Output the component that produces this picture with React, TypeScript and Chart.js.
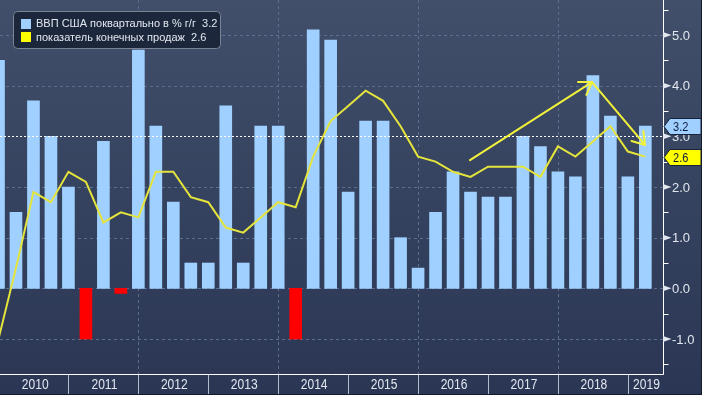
import React, { useEffect, useRef } from "react";
import { Chart, registerables } from "chart.js";

Chart.register(...registerables);

// ---------- DATA ----------
const quarters = [
  "4Q09",
  "1Q10", "2Q10", "3Q10", "4Q10",
  "1Q11", "2Q11", "3Q11", "4Q11",
  "1Q12", "2Q12", "3Q12", "4Q12",
  "1Q13", "2Q13", "3Q13", "4Q13",
  "1Q14", "2Q14", "3Q14", "4Q14",
  "1Q15", "2Q15", "3Q15", "4Q15",
  "1Q16", "2Q16", "3Q16", "4Q16",
  "1Q17", "2Q17", "3Q17", "4Q17",
  "1Q18", "2Q18", "3Q18", "4Q18",
  "1Q19",
];

const gdpValues = [
  4.5,
  1.5, 3.7, 3.0, 2.0,
  -1.0, 2.9, -0.1, 4.7,
  3.2, 1.7, 0.5, 0.5,
  3.6, 0.5, 3.2, 3.2,
  -1.0, 5.1, 4.9, 1.9,
  3.3, 3.3, 1.0, 0.4,
  1.5, 2.3, 1.9, 1.8,
  1.8, 3.0, 2.8, 2.3,
  2.2, 4.2, 3.4, 2.2,
  3.2,
];

const finalSalesValues = [
  -1.0,
  0.4, 1.9, 1.7, 2.3,
  2.1, 1.3, 1.5, 1.4,
  2.3, 2.3, 1.8, 1.7,
  1.2, 1.1, 1.4, 1.7,
  1.6, 2.6, 3.3, 3.6,
  3.9, 3.7, 3.2, 2.6,
  2.5, 2.3, 2.2, 2.4,
  2.4, 2.4, 2.2, 2.8,
  2.6, 2.9, 3.2, 2.7,
  2.6,
];

const yearLabels = ["2010", "2011", "2012", "2013", "2014", "2015", "2016", "2017", "2018", "2019"];
const yTickValues = [-1, 0, 1, 2, 3, 4, 5];
const yMinorTickValues = [-1.5, -0.5, 0.5, 1.5, 2.5, 3.5, 4.5, 5.5];
const yTickLabels = ["-1.0", "0.0", "1.0", "2.0", "3.0", "4.0", "5.0"];
const referenceLevel = 3.0;

const seriesNames = ["ВВП США поквартально в % г/г", "показатель конечных продаж"];
const lastValueLabels = ["3.2", "2.6"];
const lastValues = [3.2, 2.6];

// hand-drawn arrows, in (quarter index, value) coordinates
const arrowStarts = [[26.97, 2.53], [33.95, 4.07]];
const arrowEnds = [[33.95, 4.07], [36.98, 2.83]];

// ---------- STYLE ----------
const BAR_BLUE = "#9fd0ff";
const BAR_RED = "#ff0000";
const LINE_YELLOW = "#e4e43c";
const TAG_YELLOW = "#ffff00";
const ARROW_YELLOW = "#f2f23a";
const GRID = "#5b6e8e";
const TEXT = "#e2e7ef";
const FONT = "'Liberation Sans', Arial, sans-serif";

function narrowText(ctx: any, text: string, x: number, y: number, sx: number) {
  ctx.save();
  ctx.translate(x, y);
  ctx.scale(sx, 1);
  ctx.fillText(text, 0, 0);
  ctx.restore();
}

const decorPlugin = {
  id: "decor",
  beforeDraw(chart: any) {
    const { ctx, width, height, chartArea, scales } = chart;
    const xs = scales.x;
    const ys = scales.y;
    ctx.save();
    const g = ctx.createLinearGradient(0, 0, 0, height);
    g.addColorStop(0, "#414f6b");
    g.addColorStop(1, "#2a3653");
    ctx.fillStyle = g;
    ctx.fillRect(0, 0, width, height);

    // horizontal grid
    ctx.strokeStyle = GRID;
    ctx.lineWidth = 1;
    ctx.setLineDash([3, 3]);
    yTickValues.forEach((v) => {
      if (v === referenceLevel) return;
      const y = Math.round(ys.getPixelForValue(v)) + 0.5;
      ctx.beginPath();
      ctx.moveTo(chartArea.left, y);
      ctx.lineTo(chartArea.right, y);
      ctx.stroke();
    });
    // vertical grid every other year boundary
    let count = 0;
    quarters.forEach((q, i) => {
      if (q.startsWith("4Q")) {
        if (count % 2 === 0 && i > 0) {
          const x = Math.round(xs.getPixelForValue(i)) + 0.5;
          ctx.beginPath();
          ctx.moveTo(x, chartArea.top);
          ctx.lineTo(x, chartArea.bottom);
          ctx.stroke();
        }
        count++;
      }
    });
    ctx.restore();
  },
  afterDatasetsDraw(chart: any) {
    const { ctx, width, height, chartArea, scales } = chart;
    const xs = scales.x;
    const ys = scales.y;
    ctx.save();

    // reference dotted line
    ctx.strokeStyle = "#ffffff";
    ctx.lineWidth = 1;
    ctx.setLineDash([2, 2]);
    const ry = Math.round(ys.getPixelForValue(referenceLevel)) + 0.5;
    ctx.beginPath();
    ctx.moveTo(chartArea.left, ry);
    ctx.lineTo(chartArea.right, ry);
    ctx.stroke();
    ctx.setLineDash([]);

    // arrows
    ctx.strokeStyle = ARROW_YELLOW;
    ctx.lineWidth = 2;
    ctx.lineCap = "round";
    ctx.lineJoin = "round";
    arrowStarts.forEach((s, k) => {
      const e = arrowEnds[k];
      const x1 = xs.getPixelForValue(s[0]);
      const y1 = ys.getPixelForValue(s[1]);
      const x2 = xs.getPixelForValue(e[0]);
      const y2 = ys.getPixelForValue(e[1]);
      ctx.beginPath();
      ctx.moveTo(x1, y1);
      ctx.lineTo(x2, y2);
      ctx.stroke();
      const ang = Math.atan2(y1 - y2, x1 - x2);
      const len = 14;
      const spread = 0.58;
      ctx.beginPath();
      ctx.moveTo(x2 + len * Math.cos(ang + spread), y2 + len * Math.sin(ang + spread));
      ctx.lineTo(x2, y2);
      ctx.lineTo(x2 + len * Math.cos(ang - spread), y2 + len * Math.sin(ang - spread));
      ctx.stroke();
    });
    ctx.lineCap = "butt";

    // axis lines
    const ax = chartArea.right + 0.5;
    const ay = chartArea.bottom + 0.5;
    ctx.strokeStyle = "#ffffff";
    ctx.lineWidth = 1;
    ctx.beginPath();
    ctx.moveTo(ax, 0);
    ctx.lineTo(ax, ay);
    ctx.lineTo(0, ay);
    ctx.stroke();

    // minor ticks
    yMinorTickValues.forEach((v) => {
      const y = Math.round(ys.getPixelForValue(v)) + 0.5;
      ctx.beginPath();
      ctx.moveTo(ax, y);
      ctx.lineTo(ax + 5, y);
      ctx.stroke();
    });
    // major ticks + labels
    ctx.fillStyle = TEXT;
    ctx.font = `13px ${FONT}`;
    ctx.textBaseline = "middle";
    ctx.textAlign = "left";
    yTickValues.forEach((v, k) => {
      const y = ys.getPixelForValue(v);
      ctx.beginPath();
      ctx.moveTo(ax - 0.5, y - 3);
      ctx.lineTo(ax + 8, y);
      ctx.lineTo(ax - 0.5, y + 3);
      ctx.closePath();
      ctx.fill();
      ctx.fillText(yTickLabels[k], chartArea.right + 9, y + 1);
    });

    // last value tags
    const tagColors = [BAR_BLUE, TAG_YELLOW];
    lastValues.forEach((v, k) => {
      const y = Math.round(ys.getPixelForValue(v)) + 0.5;
      const l = chartArea.right + 1;
      ctx.beginPath();
      ctx.moveTo(l, y);
      ctx.lineTo(l + 6, y - 8);
      ctx.lineTo(width - 1, y - 8);
      ctx.lineTo(width - 1, y + 8);
      ctx.lineTo(l + 6, y + 8);
      ctx.closePath();
      ctx.fillStyle = tagColors[k];
      ctx.fill();
      ctx.strokeStyle = "#18233a";
      ctx.stroke();
      ctx.fillStyle = "#0e1a3a";
      ctx.font = `13px ${FONT}`;
      narrowText(ctx, lastValueLabels[k], l + 9, y + 1, 0.85);
    });

    // x-axis year labels and separators
    const bounds: number[] = [];
    quarters.forEach((q, i) => {
      if (q.startsWith("4Q")) bounds.push(xs.getPixelForValue(i));
    });
    ctx.strokeStyle = "#b4bccb";
    ctx.fillStyle = TEXT;
    ctx.font = `14px ${FONT}`;
    ctx.textAlign = "center";
    yearLabels.forEach((lab, k) => {
      const left = bounds[k];
      const right = k + 1 < bounds.length ? bounds[k + 1] : chartArea.right;
      if (k > 0) {
        const sx = Math.round(left) + 0.5;
        ctx.beginPath();
        ctx.moveTo(sx, chartArea.bottom + 1);
        ctx.lineTo(sx, height);
        ctx.stroke();
      }
      narrowText(ctx, lab, (Math.max(left, 0) + right) / 2 + 1, chartArea.bottom + 11.5, 0.86);
    });

    // frame edge
    ctx.strokeStyle = "#141b2a";
    ctx.beginPath();
    ctx.moveTo(width - 0.5, 0);
    ctx.lineTo(width - 0.5, height - 0.5);
    ctx.lineTo(0, height - 0.5);
    ctx.stroke();

    // legend
    const lx = 13.5, lyTop = 11.5, lw = 207, lh = 37, r = 4;
    ctx.beginPath();
    ctx.moveTo(lx + r, lyTop);
    ctx.lineTo(lx + lw - r, lyTop);
    ctx.arcTo(lx + lw, lyTop, lx + lw, lyTop + r, r);
    ctx.lineTo(lx + lw, lyTop + lh - r);
    ctx.arcTo(lx + lw, lyTop + lh, lx + lw - r, lyTop + lh, r);
    ctx.lineTo(lx + r, lyTop + lh);
    ctx.arcTo(lx, lyTop + lh, lx, lyTop + lh - r, r);
    ctx.lineTo(lx, lyTop + r);
    ctx.arcTo(lx, lyTop, lx + r, lyTop, r);
    ctx.closePath();
    ctx.fillStyle = "#1d273c";
    ctx.fill();
    ctx.strokeStyle = "#7a8496";
    ctx.stroke();
    const swatch = [BAR_BLUE, TAG_YELLOW];
    ctx.textAlign = "left";
    ctx.font = `11px ${FONT}`;
    seriesNames.forEach((name, k) => {
      const cy = 23.5 + k * 13.5;
      ctx.fillStyle = swatch[k];
      ctx.fillRect(21, Math.round(cy - 5), 10, 10);
      ctx.fillStyle = TEXT;
      ctx.fillText(`${name}  ${lastValueLabels[k]}`, 36, cy + 0.5);
    });

    ctx.restore();
  },
};

export default function App() {
  const canvasRef = useRef<HTMLCanvasElement | null>(null);

  useEffect(() => {
    const canvas = canvasRef.current;
    if (!canvas) return;
    const barData = gdpValues.map((v, i) => ({ x: i, y: v }));
    const lineData = finalSalesValues.map((v, i) => ({ x: i, y: v }));
    const chart = new Chart(canvas, {
      type: "bar",
      data: {
        datasets: [
          {
            type: "line",
            label: seriesNames[1],
            data: lineData,
            borderColor: LINE_YELLOW,
            borderWidth: 2,
            pointRadius: 0,
            tension: 0,
            order: 0,
          } as any,
          {
            type: "bar",
            label: seriesNames[0],
            data: barData,
            backgroundColor: gdpValues.map((v) => (v < 0 ? BAR_RED : BAR_BLUE)),
            borderWidth: 0,
            barThickness: 12,
            order: 1,
          } as any,
        ],
      },
      options: {
        animation: false,
        responsive: false,
        devicePixelRatio: 1,
        layout: { padding: { left: 0, top: 0, right: 39, bottom: 21 } },
        plugins: { legend: { display: false }, tooltip: { enabled: false } },
        scales: {
          x: { type: "linear", min: 0.086, max: 38.01, offset: false, bounds: "ticks", display: false },
          y: { type: "linear", min: -1.69, max: 5.69, display: false },
        },
      },
      plugins: [decorPlugin],
    });
    return () => chart.destroy();
  }, []);

  return (
    <div style={{ position: "fixed", left: 0, top: 0, width: 702, height: 395 }}>
      <canvas ref={canvasRef} width={702} height={395} style={{ display: "block" }} />
    </div>
  );
}
